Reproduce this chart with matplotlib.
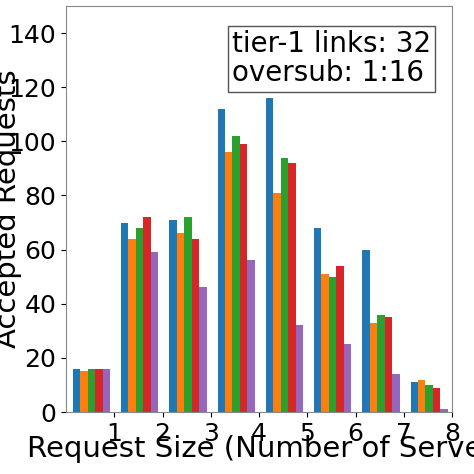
import matplotlib
matplotlib.use("Agg")
import matplotlib.pyplot as plt
import numpy as np

groups = np.arange(8)
series = [
    [16, 70, 71, 112, 116, 68, 60, 11],
    [15, 64, 66, 96, 81, 51, 33, 12],
    [16, 68, 72, 102, 94, 50, 36, 10],
    [16, 72, 64, 99, 92, 54, 35, 9],
    [16, 59, 46, 56, 32, 25, 14, 1],
]
colors = ['#1f77b4', '#ff7f0e', '#2ca02c', '#d62728', '#9467bd']
xticks = [1, 2, 3, 4, 5, 6, 7, 8]

fig = plt.figure(figsize=(4.74, 4.74), dpi=100)
ax = fig.add_axes([66/474, 1-412/474, (452-66)/474, (412-6)/474])
w = 0.155
for j, (vals, c) in enumerate(zip(series, colors)):
    ax.bar(groups + 0.14 + j * w, vals, width=w, color=c, align='edge')
ax.set_xlim(0, 8)
ax.set_ylim(0, 150)
ax.set_xticks(xticks)
ax.set_yticks(range(0, 141, 20))
ax.tick_params(labelsize=18)
for s in ax.spines.values():
    s.set_color('#888888')
ax.set_xlabel('Request Size (Number of Servers)', fontsize=21, ha='left', va='center')
ax.set_ylabel('Accepted Requests', fontsize=21, va='center')
ax.xaxis.set_label_coords(-0.1, -0.09)
ax.yaxis.set_label_coords(-0.15, 0.5)
ax.text(0.43, 0.94, 'tier-1 links: 32\noversub: 1:16', transform=ax.transAxes,
        fontsize=20, va='top', ha='left', linespacing=1.05,
        bbox=dict(facecolor='white', edgecolor='#555555', pad=3))
fig.savefig('out.png', dpi=100)
